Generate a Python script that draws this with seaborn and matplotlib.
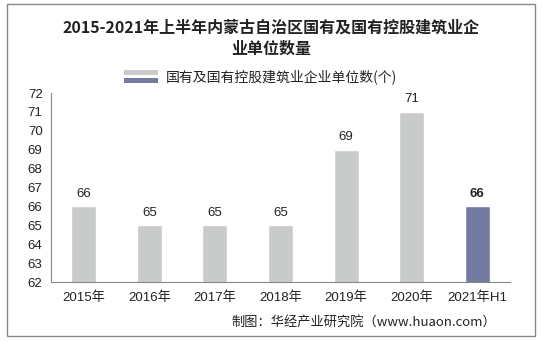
import numpy as np
import pandas as pd
import matplotlib
matplotlib.use('Agg')
import matplotlib.pyplot as plt
import seaborn as sns
from matplotlib.patches import Rectangle
from matplotlib.legend_handler import HandlerBase

years = ['2015年', '2016年', '2017年', '2018年', '2019年', '2020年', '2021年H1']
counts = [66, 65, 65, 65, 69, 71, 66]
series_name = '国有及国有控股建筑业企业单位数(个)'

GRAY = '#c8cbca'
BLUE = '#737ca0'

sns.set_style('white')
plt.rcParams['font.family'] = ['Liberation Sans', 'Noto Sans CJK SC', 'DejaVu Sans']

df = pd.DataFrame({'year': years, 'count': counts})
palette = {y: (BLUE if y == '2021年H1' else GRAY) for y in years}


class TwoBoxHandler(HandlerBase):
    # 범례: 회색/파란색 두 줄을 위아래로 쌓아서 그림
    def create_artists(self, legend, orig_handle, xdescent, ydescent,
                       width, height, fontsize, trans):
        h = height * 0.5
        top = Rectangle((-xdescent, -ydescent + height * 0.62), width, h,
                        facecolor=GRAY, edgecolor='none', transform=trans)
        bot = Rectangle((-xdescent, -ydescent - height * 0.22), width, h,
                        facecolor=BLUE, edgecolor='none', transform=trans)
        return [top, bot]


fig = plt.figure(figsize=(5.42, 3.41), dpi=100)
ax = fig.add_axes([0.094, 0.173, 0.847, 0.554])

sns.barplot(data=df, x='year', y='count', hue='year', palette=palette,
            legend=False, width=0.38, ax=ax, saturation=1)

ax.set_ylim(62, 72)
ax.set_yticks(range(62, 73))
ax.set_xlim(-0.5, len(years) - 0.5)
ax.set_xlabel('')
ax.set_ylabel('')

for i, v in enumerate(counts):
    ax.text(i, v + 0.35, str(v), ha='center', va='bottom', fontsize=9.5,
            color='#222222', fontweight='bold' if i == len(counts) - 1 else 'normal')

for s in ['top', 'right']:
    ax.spines[s].set_visible(False)
for s in ['left', 'bottom']:
    ax.spines[s].set_color('#888888')
    ax.spines[s].set_linewidth(0.8)

ax.tick_params(axis='y', length=3, color='#888888', labelsize=9.5, labelcolor='#222222', pad=3)
ax.tick_params(axis='x', which='major', length=0, labelsize=9.5, labelcolor='#222222', pad=7)
ax.set_xticks(np.arange(-0.5, len(years)), minor=True)
ax.tick_params(axis='x', which='minor', length=4, color='#888888')

cjk = ['Noto Sans CJK SC', 'DejaVu Sans']
fig.text(0.5, 0.918, '2015-2021年上半年内蒙古自治区国有及国有控股建筑业企',
         ha='center', va='center', fontsize=11.5, fontweight='bold', color='#222222', family=cjk)
fig.text(0.5, 0.858, '业单位数量', ha='center', va='center', fontsize=11.5,
         fontweight='bold', color='#222222', family=cjk)

handle = Rectangle((0, 0), 1, 1)
fig.legend([handle], [series_name], handler_map={Rectangle: TwoBoxHandler()},
           loc='center', bbox_to_anchor=(0.48, 0.775), frameon=False,
           prop={'family': cjk, 'size': 10}, handlelength=2.5, handletextpad=0.5,
           labelcolor='#222222')

fig.text(0.915, 0.055, '制图：华经产业研究院（www.huaon.com）', ha='right', va='center',
         fontsize=9.5, color='#222222', family=cjk)

fig.patches.append(Rectangle((0.013, 0.015), 0.974, 0.972, transform=fig.transFigure,
                             fill=False, edgecolor='#888888', linewidth=1))

fig.savefig('out.png', dpi=100)
